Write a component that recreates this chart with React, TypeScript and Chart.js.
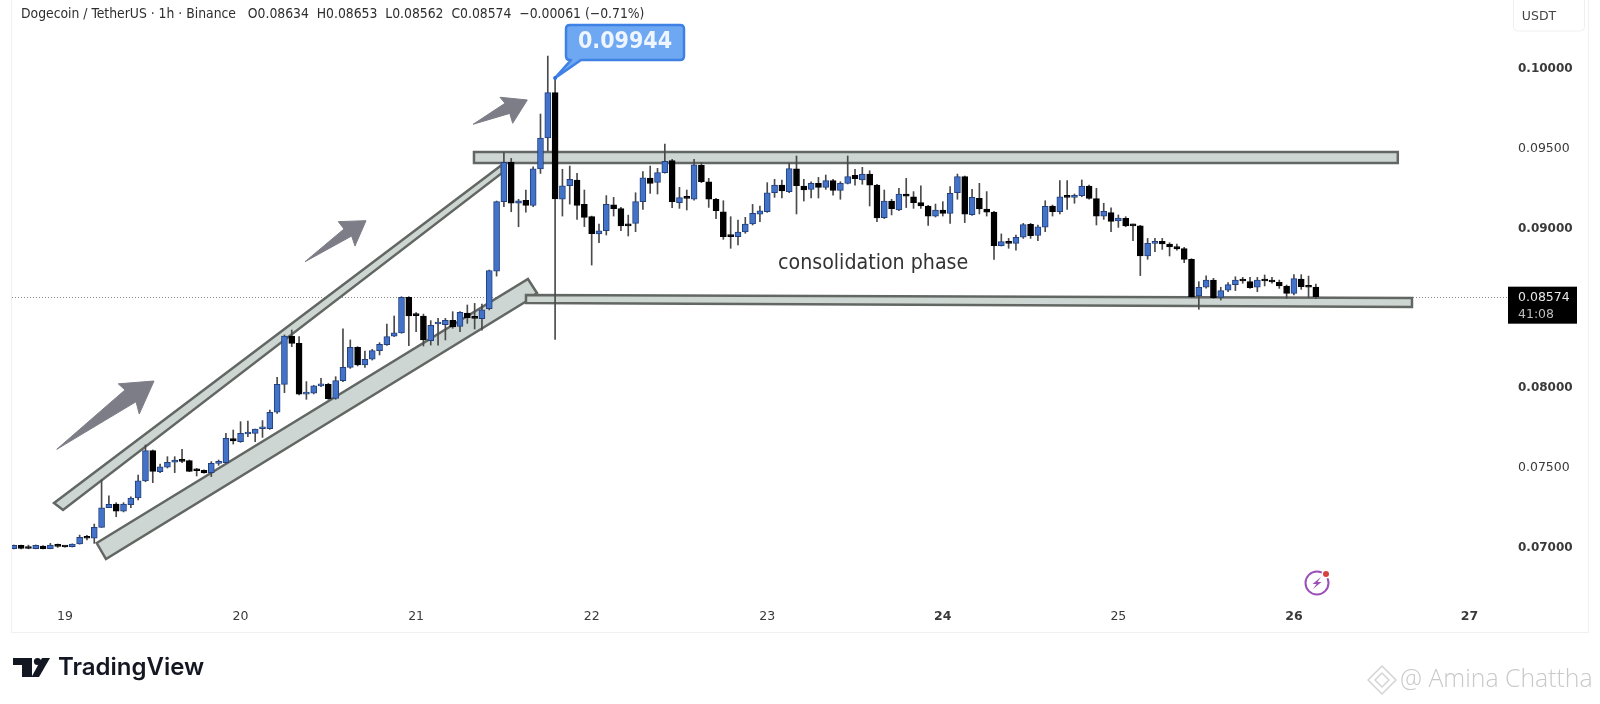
import React, { useEffect, useRef } from "react";
import { Chart, registerables } from "chart.js";

Chart.register(...registerables);

// Hours counted from 19th 00:00 for the first candle
const firstHour = -7;

const opens = [
  0.06996,0.07017,0.06999,0.06996,0.07012,0.06996,0.07015,0.07008,0.07008,0.07025,
  0.07067,0.07061,0.07129,0.07252,0.07275,0.07230,0.07271,0.07313,0.07420,0.07610,
  0.07478,0.07507,0.07537,0.07549,0.07547,0.07488,0.07486,0.07472,0.07530,0.07534,
  0.07685,0.07666,0.07714,0.07718,0.07747,0.07747,0.07850,0.08025,0.08328,0.08282,
  0.07964,0.07969,0.08015,0.08025,0.07937,0.08048,0.08131,0.08257,0.08146,0.08182,
  0.08236,0.08274,0.08326,0.08347,0.08570,0.08459,0.08453,0.08299,0.08403,0.08399,
  0.08426,0.08388,0.08472,0.08442,0.08436,0.08499,0.08733,0.09169,0.09415,0.09159,
  0.09177,0.09146,0.09374,0.09568,0.09852,0.09184,0.09269,0.09305,0.09152,0.09075,
  0.08967,0.08987,0.09150,0.09125,0.09027,0.09033,0.09169,0.09317,0.09290,0.09351,
  0.09426,0.09163,0.09196,0.09184,0.09397,0.09294,0.09184,0.09106,0.08954,0.08950,
  0.08979,0.09029,0.09090,0.09106,0.09225,0.09273,0.09232,0.09374,0.09267,0.09246,
  0.09284,0.09259,0.09301,0.09240,0.09284,0.09334,0.09305,0.09342,0.09273,0.09069,
  0.09173,0.09117,0.09217,0.09200,0.09163,0.09142,0.09079,0.09117,0.09096,0.09225,
  0.09326,0.09088,0.09190,0.09123,0.09104,0.08893,0.08919,0.08908,0.08946,0.09027,
  0.08958,0.09010,0.09142,0.09106,0.09203,0.09196,0.09207,0.09267,0.09188,0.09079,
  0.09100,0.09048,0.09065,0.09021,0.09017,0.08829,0.08908,0.08921,0.08904,0.08887,
  0.08875,0.08808,0.08578,0.08633,0.08678,0.08570,0.08614,0.08649,0.08683,0.08668,
  0.08633,0.08678,0.08672,0.08664,0.08641,0.08595,0.08685,0.08637,0.08634,
];

const highs = [
  0.07019,0.07019,0.07018,0.07019,0.07015,0.07029,0.07025,0.07010,0.07026,0.07081,
  0.07079,0.07150,0.07426,0.07326,0.07284,0.07284,0.07321,0.07457,0.07645,0.07614,
  0.07526,0.07572,0.07572,0.07618,0.07551,0.07499,0.07490,0.07541,0.07551,0.07718,
  0.07739,0.07791,0.07795,0.07745,0.07798,0.07864,0.08069,0.08334,0.08365,0.08324,
  0.08042,0.08019,0.08063,0.08031,0.08073,0.08372,0.08303,0.08261,0.08234,0.08244,
  0.08286,0.08403,0.08453,0.08574,0.08574,0.08474,0.08465,0.08424,0.08438,0.08438,
  0.08480,0.08480,0.08522,0.08532,0.08528,0.08741,0.09173,0.09476,0.09440,0.09184,
  0.09242,0.09388,0.09718,0.10081,0.09944,0.09372,0.09392,0.09347,0.09242,0.09079,
  0.09029,0.09207,0.09196,0.09134,0.09085,0.09225,0.09357,0.09392,0.09378,0.09530,
  0.09434,0.09259,0.09242,0.09434,0.09413,0.09315,0.09190,0.09175,0.09075,0.09054,
  0.09071,0.09152,0.09142,0.09288,0.09309,0.09305,0.09409,0.09455,0.09309,0.09294,
  0.09321,0.09336,0.09309,0.09294,0.09455,0.09372,0.09384,0.09363,0.09278,0.09242,
  0.09184,0.09253,0.09315,0.09232,0.09269,0.09146,0.09154,0.09169,0.09263,0.09342,
  0.09330,0.09246,0.09284,0.09232,0.09109,0.08967,0.08939,0.08960,0.09033,0.09033,
  0.09023,0.09175,0.09148,0.09301,0.09301,0.09217,0.09305,0.09273,0.09253,0.09159,
  0.09131,0.09086,0.09075,0.09029,0.09021,0.08939,0.08939,0.08939,0.08912,0.08904,
  0.08883,0.08812,0.08668,0.08704,0.08689,0.08633,0.08662,0.08699,0.08695,0.08695,
  0.08695,0.08710,0.08695,0.08678,0.08647,0.08712,0.08712,0.08703,0.08653,
];

const lows = [
  0.06994,0.06995,0.06995,0.06995,0.06994,0.06995,0.07004,0.07005,0.07006,0.07024,
  0.07050,0.07029,0.07129,0.07252,0.07196,0.07226,0.07252,0.07301,0.07415,0.07409,
  0.07472,0.07501,0.07472,0.07534,0.07478,0.07451,0.07468,0.07447,0.07518,0.07530,
  0.07651,0.07662,0.07697,0.07666,0.07693,0.07743,0.07843,0.07973,0.08261,0.07958,
  0.07931,0.07965,0.08010,0.07931,0.07931,0.08042,0.08125,0.08140,0.08131,0.08177,
  0.08209,0.08269,0.08324,0.08345,0.08267,0.08355,0.08265,0.08271,0.08271,0.08303,
  0.08376,0.08355,0.08407,0.08372,0.08365,0.08491,0.08703,0.09138,0.09106,0.09012,
  0.09104,0.09138,0.09346,0.09488,0.08307,0.09079,0.09154,0.09058,0.09013,0.08772,
  0.08912,0.08960,0.09079,0.08987,0.08954,0.08981,0.09121,0.09221,0.09217,0.09347,
  0.09131,0.09127,0.09117,0.09179,0.09288,0.09133,0.09063,0.08933,0.08877,0.08898,
  0.08971,0.09023,0.09044,0.09102,0.09196,0.09192,0.09225,0.09092,0.09173,0.09192,
  0.09192,0.09246,0.09209,0.09184,0.09280,0.09273,0.09278,0.09142,0.09044,0.09063,
  0.09086,0.09113,0.09132,0.09127,0.09127,0.09021,0.09073,0.09079,0.09033,0.09184,
  0.09038,0.09083,0.09092,0.09079,0.08808,0.08891,0.08877,0.08866,0.08939,0.08939,
  0.08925,0.08981,0.09079,0.09092,0.09121,0.09159,0.09200,0.09184,0.09023,0.09058,
  0.08981,0.09008,0.09012,0.08925,0.08706,0.08808,0.08856,0.08870,0.08829,0.08866,
  0.08787,0.08570,0.08495,0.08628,0.08564,0.08553,0.08605,0.08612,0.08658,0.08626,
  0.08605,0.08641,0.08658,0.08626,0.08564,0.08585,0.08620,0.08570,0.08562,
];

const closes = [
  0.07017,0.06998,0.06997,0.07017,0.06996,0.07019,0.07010,0.07006,0.07025,0.07067,
  0.07061,0.07129,0.07252,0.07273,0.07230,0.07275,0.07313,0.07420,0.07610,0.07480,
  0.07509,0.07537,0.07551,0.07543,0.07480,0.07484,0.07470,0.07530,0.07534,0.07687,
  0.07670,0.07718,0.07718,0.07745,0.07749,0.07850,0.08025,0.08328,0.08282,0.07964,
  0.07973,0.08015,0.08025,0.07935,0.08048,0.08131,0.08257,0.08146,0.08182,0.08236,
  0.08276,0.08324,0.08347,0.08570,0.08453,0.08455,0.08303,0.08394,0.08407,0.08426,
  0.08384,0.08476,0.08442,0.08438,0.08491,0.08737,0.09169,0.09415,0.09159,0.09175,
  0.09146,0.09374,0.09568,0.09852,0.09186,0.09269,0.09309,0.09146,0.09071,0.08969,
  0.08987,0.09152,0.09125,0.09017,0.09017,0.09169,0.09319,0.09284,0.09351,0.09422,
  0.09169,0.09194,0.09190,0.09399,0.09294,0.09184,0.09113,0.08950,0.08950,0.08979,
  0.09029,0.09096,0.09111,0.09225,0.09273,0.09236,0.09376,0.09269,0.09242,0.09284,
  0.09259,0.09301,0.09240,0.09284,0.09326,0.09313,0.09342,0.09273,0.09067,0.09173,
  0.09125,0.09217,0.09203,0.09163,0.09142,0.09079,0.09117,0.09096,0.09221,0.09326,
  0.09090,0.09196,0.09123,0.09104,0.08893,0.08919,0.08908,0.08946,0.09025,0.08956,
  0.09012,0.09140,0.09106,0.09200,0.09196,0.09209,0.09267,0.09190,0.09079,0.09109,
  0.09046,0.09067,0.09017,0.09017,0.08829,0.08908,0.08921,0.08904,0.08885,0.08873,
  0.08808,0.08574,0.08633,0.08678,0.08568,0.08612,0.08649,0.08678,0.08672,0.08630,
  0.08678,0.08672,0.08666,0.08641,0.08595,0.08687,0.08637,0.08633,0.08574,
];

const priceTicks = [0.07, 0.075, 0.08, 0.09, 0.095, 0.1];
const boldPriceTicks = [0.07, 0.08, 0.09, 0.1];
const dayTicks = [19, 20, 21, 22, 23, 24, 25, 26, 27];
const boldDayTicks = [24, 26, 27];

const lastPrice = 0.08574;
const peakHour = 67;
const peakPrice = 0.09944;

// Drawing tools of the chart, as [hour, price] anchor points
const upperChannel = [[-1.5, 0.07282], [59.7, 0.09399], [59.7, 0.09347], [-0.27, 0.07238]];
const lowerChannel = [[4.33, 0.07031], [63.29, 0.08685], [64.52, 0.08597], [63.12, 0.08547], [5.6, 0.06931]];
const resistanceBand = [[55.91, 0.0948], [182.2, 0.0948], [182.2, 0.09411], [55.91, 0.09411]];
const supportBand = [[63.02, 0.08585], [184.14, 0.08566], [184.14, 0.08509], [63.02, 0.08534]];
const arrowOne = [[-1.13, 0.07618], [8.2, 0.0799], [7.28, 0.08028], [12.17, 0.08046], [10.15, 0.07839], [9.71, 0.07916]];
const arrowTwo = [[32.81, 0.08793], [38.14, 0.08998], [37.36, 0.09044], [41.15, 0.0905], [39.64, 0.08891], [39.19, 0.08954]];
const arrowThree = [[55.8, 0.09654], [60.15, 0.09785], [59.47, 0.09823], [63.2, 0.09806], [61.2, 0.0966], [60.8, 0.09722]];

const HEADER = "Dogecoin / TetherUS · 1h · Binance   O0.08634  H0.08653  L0.08562  C0.08574  −0.00061 (−0.71%)";

const candleUp = "#4273c9";
const candleUpBorder = "#24407c";
const candleDown = "#000000";

const hours = opens.map((_, i) => firstHour + i);

const decor = {
  id: "decor",
  beforeDatasetsDraw(chart: any) {
    const { ctx, scales } = chart;
    const X = scales.x;
    const Y = scales.y;
    const path = (pts: number[][]) => {
      ctx.beginPath();
      pts.forEach((p, i) => {
        const px = X.getPixelForValue(p[0]);
        const py = Y.getPixelForValue(p[1]);
        if (i === 0) ctx.moveTo(px, py);
        else ctx.lineTo(px, py);
      });
      ctx.closePath();
    };
    ctx.save();
    // frame
    ctx.strokeStyle = "#f0f0f0";
    ctx.lineWidth = 1;
    ctx.beginPath();
    ctx.moveTo(11.5, 0);
    ctx.lineTo(11.5, 632.5);
    ctx.lineTo(1588.5, 632.5);
    ctx.lineTo(1588.5, 0);
    ctx.stroke();
    // last price line
    const ly = Math.round(Y.getPixelForValue(lastPrice)) + 0.5;
    ctx.strokeStyle = "#8a8a8a";
    ctx.setLineDash([1, 2]);
    ctx.beginPath();
    ctx.moveTo(12, ly);
    ctx.lineTo(1508, ly);
    ctx.stroke();
    ctx.setLineDash([]);
    // channels and bands
    ctx.fillStyle = "#cdd6d2";
    ctx.strokeStyle = "#626763";
    ctx.lineWidth = 2.5;
    ctx.lineJoin = "miter";
    [upperChannel, lowerChannel, resistanceBand, supportBand].forEach((s) => {
      path(s);
      ctx.fill();
      ctx.stroke();
    });
    // arrows
    ctx.fillStyle = "#7c7d86";
    ctx.strokeStyle = "#7c7d86";
    ctx.lineWidth = 1;
    ctx.lineJoin = "round";
    [arrowOne, arrowTwo, arrowThree].forEach((s) => {
      path(s);
      ctx.fill();
      ctx.stroke();
    });
    ctx.restore();
  },
  afterDatasetsDraw(chart: any) {
    const { ctx, scales } = chart;
    const X = scales.x;
    const Y = scales.y;
    ctx.save();
    ctx.textBaseline = "middle";
    // header
    ctx.fillStyle = "#2e2e2e";
    ctx.textAlign = "left";
    ctx.font = '13.8px "DejaVu Sans Condensed", "DejaVu Sans"';
    ctx.fillText(HEADER, 21, 14);

    // consolidation label
    ctx.fillStyle = "#333333";
    ctx.font = '21.2px "DejaVu Sans Condensed", "DejaVu Sans"';
    ctx.fillText("consolidation phase", 778, 263);

    // peak callout
    const px = X.getPixelForValue(peakHour);
    const py = Y.getPixelForValue(peakPrice);
    ctx.fillStyle = "#6ea8f2";
    ctx.strokeStyle = "#3f80e4";
    ctx.lineWidth = 2.5;
    ctx.lineJoin = "round";
    ctx.beginPath();
    ctx.moveTo(570, 25);
    ctx.lineTo(680, 25);
    ctx.quadraticCurveTo(684, 25, 684, 29);
    ctx.lineTo(684, 56);
    ctx.quadraticCurveTo(684, 60, 680, 60);
    ctx.lineTo(581, 60);
    ctx.lineTo(px, py);
    ctx.lineTo(571, 60);
    ctx.lineTo(570, 60);
    ctx.quadraticCurveTo(566, 60, 566, 56);
    ctx.lineTo(566, 29);
    ctx.quadraticCurveTo(566, 25, 570, 25);
    ctx.closePath();
    ctx.fill();
    ctx.stroke();
    ctx.fillStyle = "#2f6fdc";
    ctx.beginPath();
    ctx.arc(px, py, 2, 0, Math.PI * 2);
    ctx.fill();
    ctx.fillStyle = "#eef5ff";
    ctx.textAlign = "center";
    ctx.font = 'bold 23px "DejaVu Sans Condensed", "DejaVu Sans"';
    ctx.fillText(peakPrice.toFixed(5), 625, 42);

    // USDT button
    ctx.strokeStyle = "#f0f0f0";
    ctx.lineWidth = 1;
    ctx.beginPath();
    ctx.roundRect(1513.5, -4, 71, 35, 4);
    ctx.stroke();
    ctx.textAlign = "center";
    ctx.fillStyle = "#444444";
    ctx.font = '12.5px "DejaVu Sans"';
    ctx.fillText("USDT", 1539, 16.5);

    // last price tag
    const ty = Y.getPixelForValue(lastPrice);
    ctx.fillStyle = "#000000";
    ctx.fillRect(1508, ty - 10, 69, 37);
    ctx.textAlign = "left";
    ctx.fillStyle = "#e6e6e6";
    ctx.font = '12.5px "DejaVu Sans"';
    ctx.fillText(lastPrice.toFixed(5), 1518, ty + 1);
    ctx.fillStyle = "#bdbdbd";
    ctx.fillText("41:08", 1518, ty + 18);

    // lightning badge
    const bx = 1317;
    const by = 583;
    ctx.strokeStyle = "#9b4fb8";
    ctx.lineWidth = 2;
    ctx.beginPath();
    ctx.arc(bx, by, 11.5, 0, Math.PI * 2);
    ctx.stroke();
    ctx.fillStyle = "#9b4fb8";
    ctx.beginPath();
    ctx.moveTo(bx + 4, by - 6);
    ctx.lineTo(bx - 4.5, by + 1);
    ctx.lineTo(bx - 0.5, by + 1);
    ctx.lineTo(bx - 4, by + 6);
    ctx.lineTo(bx + 4.5, by - 1);
    ctx.lineTo(bx + 0.5, by - 1);
    ctx.closePath();
    ctx.fill();
    ctx.fillStyle = "#ffffff";
    ctx.beginPath();
    ctx.arc(bx + 9, by - 9, 4.5, 0, Math.PI * 2);
    ctx.fill();
    ctx.fillStyle = "#d8433f";
    ctx.beginPath();
    ctx.arc(bx + 9, by - 9, 3, 0, Math.PI * 2);
    ctx.fill();

    // TradingView logo
    ctx.fillStyle = "#131722";
    ctx.fillRect(13, 658, 19, 7);
    ctx.fillRect(22, 658, 10, 19);
    ctx.beginPath();
    ctx.arc(37.5, 661.5, 3.6, 0, Math.PI * 2);
    ctx.fill();
    ctx.beginPath();
    ctx.moveTo(42, 658);
    ctx.lineTo(50, 658);
    ctx.lineTo(39, 677);
    ctx.lineTo(31.5, 677);
    ctx.closePath();
    ctx.fill();
    ctx.textAlign = "left";
    ctx.font = '600 24px Inter';
    ctx.fillText("TradingView", 58, 668);

    // watermark
    ctx.strokeStyle = "#d4d4d4";
    ctx.lineWidth = 1.5;
    const wx = 1382;
    const wy = 680;
    ctx.beginPath();
    ctx.moveTo(wx, wy - 14);
    ctx.lineTo(wx + 14, wy);
    ctx.lineTo(wx, wy + 14);
    ctx.lineTo(wx - 14, wy);
    ctx.closePath();
    ctx.moveTo(wx, wy - 7);
    ctx.lineTo(wx + 7, wy);
    ctx.lineTo(wx, wy + 7);
    ctx.lineTo(wx - 7, wy);
    ctx.closePath();
    ctx.stroke();
    ctx.fillStyle = "#c9c9c9";
    ctx.font = '300 24.8px "Open Sans"';
    ctx.fillText("@ Amina Chattha", 1400, 680);
    ctx.restore();
  },
};

const noPadding = (s: any) => {
  s.paddingLeft = 0;
  s.paddingRight = 0;
  s.paddingTop = 0;
  s.paddingBottom = 0;
};

export default function App() {
  const ref = useRef<HTMLCanvasElement>(null);
  useEffect(() => {
    document.body.style.margin = "0";
    document.body.style.background = "#ffffff";
    const wicks = hours.map((h, i) => ({ x: h, y: [lows[i], highs[i]] }));
    const bodies = hours.map((h, i) => ({ x: h, y: [opens[i], closes[i]] }));
    const up = opens.map((o, i) => closes[i] >= o);
    const chart = new Chart(ref.current as HTMLCanvasElement, {
      type: "bar",
      data: {
        datasets: [
          {
            label: "Wick",
            data: wicks as any,
            order: 2,
            barThickness: 1,
            backgroundColor: "#4a4a4a",
            grouped: false,
          } as any,
          {
            label: "DOGEUSDT",
            data: bodies as any,
            order: 1,
            barThickness: 6,
            minBarLength: 2,
            grouped: false,
            backgroundColor: up.map((u) => (u ? candleUp : candleDown)),
            borderColor: up.map((u) => (u ? candleUpBorder : candleDown)),
            borderWidth: 1,
            borderSkipped: false,
          } as any,
        ],
      },
      options: {
        responsive: false,
        animation: false,
        devicePixelRatio: 1,
        layout: { padding: { left: 12, top: 2, right: 0, bottom: 0 } },
        plugins: { legend: { display: false }, tooltip: { enabled: false } },
        scales: {
          x: {
            type: "linear",
            offset: false,
            min: (12 - 65) / 7.315,
            max: (1510 - 65) / 7.315,
            grid: { display: false, offset: false, drawTicks: false },
            border: { display: false },
            afterFit: (s: any) => { s.height = 100; noPadding(s); },
            afterBuildTicks: (s: any) => {
              s.ticks = dayTicks.map((d) => ({ value: (d - 19) * 24 }));
            },
            ticks: {
              maxRotation: 0,
              autoSkip: false,
              padding: 5,
              color: "#3a3a3a",
              font: (c: any) => ({
                family: '"DejaVu Sans"',
                size: 12.5,
                weight: boldDayTicks.includes(19 + c.tick?.value / 24) ? "bold" : "normal",
              }),
              callback: (v: any) => String(19 + Number(v) / 24),
            },
          },
          y: {
            type: "linear",
            position: "right",
            min: 0.07 - 56 / 15967,
            max: 0.07 + 546 / 15967,
            grid: { display: false, drawTicks: false },
            border: { display: false },
            afterFit: (s: any) => { s.width = 90; noPadding(s); },
            afterBuildTicks: (s: any) => {
              s.ticks = priceTicks.map((v) => ({ value: v }));
            },
            ticks: {
              padding: 8,
              color: "#3a3a3a",
              font: (c: any) => ({
                family: '"DejaVu Sans"',
                size: boldPriceTicks.includes(c.tick?.value) ? 12 : 12.5,
                weight: boldPriceTicks.includes(c.tick?.value) ? "bold" : "normal",
              }),
              callback: (v: any) => Number(v).toFixed(5),
            },
          },
        },
      } as any,
      plugins: [decor],
    });
    return () => chart.destroy();
  }, []);
  return <canvas ref={ref} width={1600} height={704} style={{ display: "block" }} />;
}
